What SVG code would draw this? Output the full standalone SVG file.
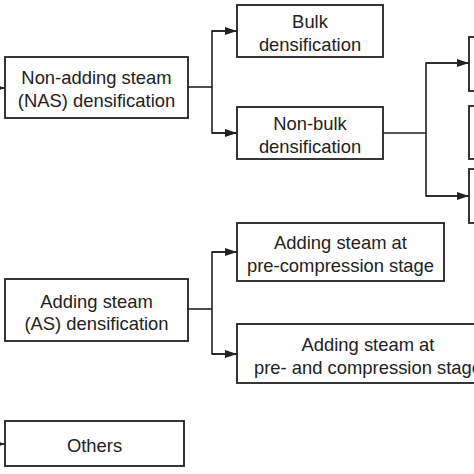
<svg xmlns="http://www.w3.org/2000/svg" width="474" height="474" viewBox="0 0 474 474">
<style>
.box{fill:#fff;stroke:#222;stroke-width:1.8}
.ln{fill:none;stroke:#222;stroke-width:1.6}
text{font-family:"Liberation Sans",Arial,sans-serif;font-size:18.4px;fill:#222;text-anchor:middle}
</style>
<defs>
<marker id="ah" viewBox="0 0 12 8" refX="12" refY="4" markerWidth="12" markerHeight="8" markerUnits="userSpaceOnUse" orient="auto">
<path d="M0,0 L12,4 L0,8 Z" fill="#222"/>
</marker>
</defs>
<rect width="474" height="474" fill="#fff"/>
<g id="connectors">
<line class="ln" x1="-20" y1="88" x2="5" y2="88" marker-end="url(#ah)"/>
<line class="ln" x1="-20" y1="444" x2="5" y2="444" marker-end="url(#ah)"/>
<path class="ln" d="M188,87 H212"/>
<path class="ln" d="M237,31 H212 V133 H237"/>
<line class="ln" x1="212" y1="31" x2="237" y2="31" marker-end="url(#ah)"/>
<line class="ln" x1="212" y1="133" x2="237" y2="133" marker-end="url(#ah)"/>
<path class="ln" d="M383,133 H426"/>
<path class="ln" d="M469,63 H426 V196 H469"/>
<line class="ln" x1="426" y1="63" x2="469" y2="63" marker-end="url(#ah)"/>
<line class="ln" x1="426" y1="196" x2="469" y2="196" marker-end="url(#ah)"/>
<path class="ln" d="M188,309 H212"/>
<path class="ln" d="M237,252 H212 V354 H237"/>
<line class="ln" x1="212" y1="252" x2="237" y2="252" marker-end="url(#ah)"/>
<line class="ln" x1="212" y1="354" x2="237" y2="354" marker-end="url(#ah)"/>
</g>
<g id="nas">
<rect class="box" x="5" y="57" width="183" height="61"/>
<text x="96.5" y="84">Non-adding steam</text>
<text x="96.5" y="107">(NAS) densification</text>
</g>
<g id="bulk">
<rect class="box" x="237" y="5" width="146" height="52"/>
<text x="310" y="28">Bulk</text>
<text x="310" y="51">densification</text>
</g>
<g id="nonbulk">
<rect class="box" x="237" y="107" width="146" height="52"/>
<text x="310" y="130">Non-bulk</text>
<text x="310" y="153">densification</text>
</g>
<g id="r1"><rect class="box" x="469" y="37" width="60" height="54"/></g>
<g id="r2"><rect class="box" x="469" y="106" width="60" height="53"/></g>
<g id="r3"><rect class="box" x="469" y="169" width="60" height="54"/></g>
<g id="as">
<rect class="box" x="5" y="279" width="183" height="62"/>
<text x="96.5" y="308">Adding steam</text>
<text x="96.5" y="330">(AS) densification</text>
</g>
<g id="precomp">
<rect class="box" x="237" y="223" width="207" height="58"/>
<text x="340.5" y="249">Adding steam at</text>
<text x="340.5" y="272">pre-compression stage</text>
</g>
<g id="prepluscomp">
<rect class="box" x="237" y="324" width="262" height="59"/>
<text x="368" y="351">Adding steam at</text>
<text x="368" y="374">pre- and compression stage</text>
</g>
<g id="others">
<rect class="box" x="5" y="421" width="179" height="45"/>
<text x="94.5" y="452">Others</text>
</g>
</svg>
